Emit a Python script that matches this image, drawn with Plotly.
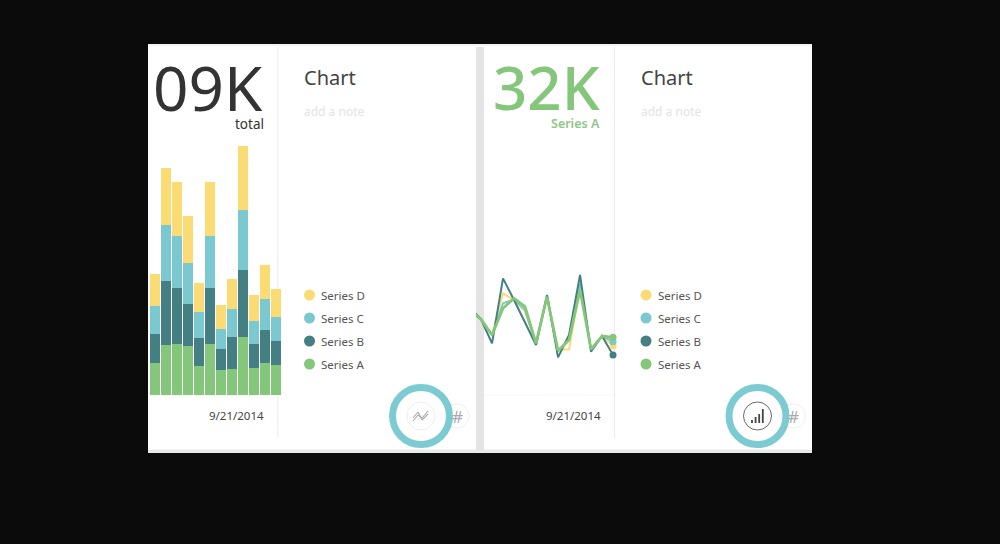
import plotly.graph_objects as go

W, H = 1000, 544
FONT = "Noto Sans"

# Stacked bars (left panel), segment heights
bar_index = list(range(12))
bar_a = [97, 149, 154, 146, 86, 154, 76, 78, 173, 81, 97, 91]
bar_b = [85, 193, 167, 126, 84, 167, 61, 95, 201, 71, 99, 71]
bar_c = [84, 169, 155, 125, 79, 155, 62, 86, 182, 71, 92, 72]
bar_d = [96, 170, 163, 139, 88, 163, 72, 90, 190, 78, 102, 85]

# Lines (right panel)
line_index = list(range(14))
line_a = [180, 152, 105, 185, 215, 190, 80, 220, 58, 90, 240, 62, 102, 98]
line_b = [188, 152, 80, 275, 210, 140, 75, 225, 38, 105, 285, 55, 102, 45]
line_c = [180, 155, 105, 200, 212, 180, 78, 222, 55, 95, 260, 60, 102, 85]
line_d = [180, 152, 105, 230, 210, 175, 78, 220, 60, 62, 250, 60, 102, 72]

series_names = ["Series A", "Series B", "Series C", "Series D"]
series_colors = ["#85c77a", "#437f83", "#7bc8d0", "#fbdc74"]
big_left, big_right = "09K", "32K"
sub_left, sub_right = "total", "Series A"
title_text = "Chart"
note_text = "add a note"
date_text = "9/21/2014"


def xd(a, b):
    return [a / W, b / W]


def yd(top, bottom):
    return [1 - bottom / H, 1 - top / H]


fig = go.Figure()

for vals, name, color in zip([bar_a, bar_b, bar_c, bar_d], series_names, series_colors):
    fig.add_trace(go.Bar(x=bar_index, y=vals, name=name, marker=dict(color=color, line_width=0),
                         xaxis="x", yaxis="y", showlegend=False))

line_widths = [2.0, 2.0, 2.0, 2.8]
for vals, name, color, lw in zip([line_d, line_c, line_b, line_a],
                                 series_names[::-1], series_colors[::-1], line_widths):
    fig.add_trace(go.Scatter(x=line_index, y=vals, name=name, mode="lines",
                             line=dict(color=color, width=lw),
                             xaxis="x2", yaxis="y2", showlegend=False))
for vals, name, color in zip([line_d, line_c, line_a, line_b],
                             ["Series D", "Series C", "Series A", "Series B"],
                             ["#fbdc74", "#7bc8d0", "#85c77a", "#437f83"]):
    fig.add_trace(go.Scatter(x=line_index[-1:], y=vals[-1:], name=name, mode="markers",
                             marker=dict(color=color, size=7),
                             xaxis="x2", yaxis="y2", showlegend=False))

shapes = []


def rect(x0, y0, x1, y1, color):
    shapes.append(dict(type="rect", xref="paper", yref="paper", x0=x0 / W, x1=x1 / W,
                       y0=1 - y0 / H, y1=1 - y1 / H, fillcolor=color, line_width=0, layer="below"))


def circle(cx, cy, r, fill="rgba(0,0,0,0)", line=None, width=0, layer="above"):
    shapes.append(dict(type="circle", xref="paper", yref="paper", x0=(cx - r) / W, x1=(cx + r) / W,
                       y0=1 - (cy - r) / H, y1=1 - (cy + r) / H, fillcolor=fill,
                       line=dict(color=line or "rgba(0,0,0,0)", width=width), layer=layer))


def seg(x0, y0, x1, y1, color, width=1.0):
    shapes.append(dict(type="line", xref="paper", yref="paper", x0=x0 / W, x1=x1 / W,
                       y0=1 - y0 / H, y1=1 - y1 / H, line=dict(color=color, width=width), layer="above"))


rect(148, 44, 812, 453, "#ffffff")
rect(148, 449.5, 812, 453, "#e9e9e9")
rect(476, 47, 484, 450, "#e4e4e4")
rect(277.5, 47, 278.3, 438, "#e6e6e6")
rect(614, 47, 614.8, 438, "#e6e6e6")
rect(149, 394.5, 278, 395.2, "#f0f0f0")
rect(484, 394.5, 614, 395.2, "#f4f4f4")
rect(148, 44, 812, 46, "#f2f2f2")

ann = []


def text(x, y, s, size, color, anchor="left", weight=None):
    f = dict(family=FONT, size=size, color=color)
    if weight:
        f["weight"] = weight
    ann.append(dict(xref="paper", yref="paper", x=x / W, y=1 - y / H, text=s, showarrow=False,
                    xanchor=anchor, yanchor="middle", font=f, borderpad=0, borderwidth=0))


text(263, 87, big_left, 62, "#333333", "right", 400)
text(264, 124, sub_left, 13.5, "#333333", "right")
text(600, 87, big_right, 60, "#85c77a", "right", 500)
text(600, 124, sub_right, 12.5, "#8fc488", "right", 600)

for px in (304, 640.5):
    text(px, 77, title_text, 20, "#444444")
    text(px, 112, note_text, 12, "#e3e3e3")
    for i, (name, color) in enumerate(zip(series_names, series_colors)):
        cy = 364 - 23 * i
        circle(px + 5.5, cy, 5.5, fill=color)
        text(px + 17, cy, name, 11.5, "#555555")

text(264, 415, date_text, 11.5, "#444444", "right")
text(601, 415, date_text, 11.5, "#444444", "right")

# buttons
for cx in (421, 757.5):
    circle(cx + 36, 416, 12, fill="#ffffff", line="#f0f0f0", width=1)
    text(cx + 36, 416, "#", 17, "#aaaaaa", "center")
    circle(cx, 416, 28.5, fill="rgba(0,0,0,0)", line="#7ccbd3", width=7)
circle(421, 416, 14, fill="#ffffff", line="#eeeeee", width=1)
circle(757.5, 416, 14, fill="#ffffff", line="#666666", width=1)

# line icon
for pts in ([(413, 421), (418, 415), (422, 418), (428, 411)],
            [(413, 418), (418, 412), (422, 420), (428, 414)]):
    for (a, b), (c, d) in zip(pts, pts[1:]):
        seg(a, b, c, d, "#aaaaaa", 1.1)
# bar icon
for i, h in enumerate((3, 6, 9, 14)):
    x = 752 + i * 3.6
    seg(x, 423, x, 423 - h, "#444444", 1.8)

fig.update_layout(
    width=W, height=H, autosize=False,
    margin=dict(l=0, r=0, t=0, b=0),
    paper_bgcolor="#0b0b0b", plot_bgcolor="rgba(0,0,0,0)",
    barmode="stack", bargap=0.1,
    shapes=shapes, annotations=ann, showlegend=False,
    xaxis=dict(domain=xd(149, 282), range=[-0.545, 11.545], visible=False, fixedrange=True),
    yaxis=dict(domain=yd(130, 395), range=[0, 795], visible=False, fixedrange=True),
    xaxis2=dict(domain=xd(476, 618), range=[0.545, 13.45], visible=False, fixedrange=True),
    yaxis2=dict(domain=yd(260, 370), range=[0, 330], visible=False, fixedrange=True),
)

fig.write_html("out.html", config={"displayModeBar": False},
               post_script="document.body.style.margin='0';document.body.style.background='#0b0b0b';document.body.style.overflow='hidden';")
